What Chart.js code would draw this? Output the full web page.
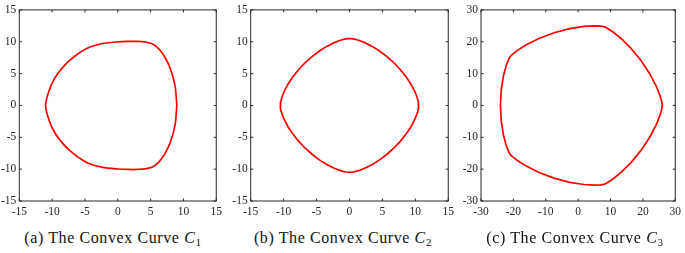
<!DOCTYPE html>
<html>
<head>
<meta charset="utf-8">
<script src="https://cdn.jsdelivr.net/npm/chart.js@4"></script>
<style>
  body { margin: 0; background: #fff; width: 685px; height: 253px; overflow: hidden; position: relative; }
  canvas { position: absolute; top: 0; }
  .cap { position: absolute; top: 229px; transform: translateX(-50%); white-space: nowrap;
         font-family: "Liberation Serif", serif; font-size: 16px; letter-spacing: 0.6px; color: #111; line-height: 18px; }
  .cap sub { font-size: 0.7em; line-height: 0; vertical-align: -0.3em; font-style: normal; }
</style>
</head>
<body>
<canvas id="c1" width="226" height="222" style="left:0px"></canvas>
<canvas id="c2" width="230" height="222" style="left:228px"></canvas>
<canvas id="c3" width="230" height="222" style="left:455px"></canvas>
<div class="cap" style="left:113px">(a) The Convex Curve <i>C</i><sub>1</sub></div>
<div class="cap" style="left:343px">(b) The Convex Curve <i>C</i><sub>2</sub></div>
<div class="cap" style="left:575px">(c) The Convex Curve <i>C</i><sub>3</sub></div>
<script>
// curve C1
var c1x = [9.00, 8.73, 8.04, 7.16, 6.37, 5.84, 5.50, 5.13, 4.38, 3.00, 1.50, 0.00, -2.30, -4.80, -7.30, -9.10, -10.00, -10.50, -10.85,
           -11.00, -10.85, -10.50, -10.00, -9.10, -7.30, -4.80, -2.30, 0.00, 1.50, 3.00, 4.38, 5.13, 5.50, 5.84, 6.37, 7.16, 8.04, 8.73];
var c1y = [0, 3.06, 5.69, 7.60, 8.74, 9.29, 9.53, 9.72, 9.92, 10.05, 10.05, 9.98, 9.72, 8.90, 7.10, 5.05, 3.50, 2.20, 1.00,
           0, -1.00, -2.20, -3.50, -5.05, -7.10, -8.90, -9.72, -9.98, -10.05, -10.05, -9.92, -9.72, -9.53, -9.29, -8.74, -7.60, -5.69, -3.06];

// curve C2
var c2x = [10.50, 10.49, 10.45, 10.35, 10.15, 9.82, 9.31, 8.62, 7.74, 6.72, 5.60, 4.46, 3.38, 2.40, 1.60, 0.98, 0.54, 0.23,
           0, -0.23, -0.54, -0.98, -1.60, -2.40, -3.38, -4.46, -5.60, -6.72, -7.74, -8.62, -9.31, -9.82, -10.15, -10.35, -10.45, -10.49,
           -10.50, -10.49, -10.45, -10.35, -10.15, -9.82, -9.31, -8.62, -7.74, -6.72, -5.60, -4.46, -3.38, -2.40, -1.60, -0.98, -0.54, -0.23,
           0, 0.23, 0.54, 0.98, 1.60, 2.40, 3.38, 4.46, 5.60, 6.72, 7.74, 8.62, 9.31, 9.82, 10.15, 10.35, 10.45, 10.49];
var c2y = [0, 0.23, 0.54, 0.98, 1.60, 2.40, 3.38, 4.46, 5.60, 6.72, 7.74, 8.62, 9.31, 9.82, 10.15, 10.35, 10.45, 10.49,
           10.50, 10.49, 10.45, 10.35, 10.15, 9.82, 9.31, 8.62, 7.74, 6.72, 5.60, 4.46, 3.38, 2.40, 1.60, 0.98, 0.54, 0.23,
           0, -0.23, -0.54, -0.98, -1.60, -2.40, -3.38, -4.46, -5.60, -6.72, -7.74, -8.62, -9.31, -9.82, -10.15, -10.35, -10.45, -10.49,
           -10.50, -10.49, -10.45, -10.35, -10.15, -9.82, -9.31, -8.62, -7.74, -6.72, -5.60, -4.46, -3.38, -2.40, -1.60, -0.98, -0.54, -0.23];

// curve C3
var c3x = [26.00, 25.99, 25.84, 25.32, 24.14, 22.15, 19.42, 16.26, 13.18, 10.65, 9.00, 8.24, 8.03, 7.82, 6.97, 5.00, 1.75, -2.57,
           -7.42, -12.10, -16.00, -18.74, -20.28, -20.89, -21.03, -21.15, -21.53, -22.23, -23.06, -23.74, -24.00,
           -23.74, -23.06, -22.23, -21.53, -21.15, -21.03, -20.89, -20.28, -18.74, -16.00, -12.10, -7.42, -2.57, 1.75, 5.00,
           6.97, 7.82, 8.03, 8.24, 9.00, 10.65, 13.18, 16.26, 19.42, 22.15, 24.14, 25.32, 25.84, 25.99];
var c3y = [0, 0.22, 1.07, 2.97, 6.01, 9.90, 14.11, 18.01, 21.10, 23.16, 24.25, 24.65, 24.73, 24.78, 24.91, 25.00, 24.82, 24.13,
           22.83, 21.03, 19.05, 17.29, 16.05, 15.45, 15.28, 15.10, 14.33, 12.48, 9.33, 5.01, 0,
           -5.01, -9.33, -12.48, -14.33, -15.10, -15.28, -15.45, -16.05, -17.29, -19.05, -21.03, -22.83, -24.13, -24.82, -25.00,
           -24.91, -24.78, -24.73, -24.65, -24.25, -23.16, -21.10, -18.01, -14.11, -9.90, -6.01, -2.97, -1.07, -0.22];

// axis limits / tick steps
var lim1 = [-15, 15], step1 = 5;
var lim2 = [-15, 15], step2 = 5;
var lim3 = [-30, 30], step3 = 10;

var axisColor = '#262626';

function loop(xs, ys) {
    var pts = xs.map(function (x, i) { return {x: x, y: ys[i]}; });
    pts.push(pts[0]);
    return pts;
}

// matlab style box with inward ticks
var boxTicks = {
    id: 'boxTicks',
    afterDraw: function (chart) {
        var ctx = chart.ctx, a = chart.chartArea, sx = chart.scales.x, sy = chart.scales.y;
        var len = 2.5;
        ctx.save();
        ctx.strokeStyle = axisColor;
        ctx.lineWidth = 1;
        ctx.strokeRect(a.left, a.top, a.right - a.left, a.bottom - a.top);
        ctx.beginPath();
        sx.ticks.forEach(function (t) {
            var p = sx.getPixelForValue(t.value);
            ctx.moveTo(p, a.bottom); ctx.lineTo(p, a.bottom - len);
            ctx.moveTo(p, a.top); ctx.lineTo(p, a.top + len);
        });
        sy.ticks.forEach(function (t) {
            var p = sy.getPixelForValue(t.value);
            ctx.moveTo(a.left, p); ctx.lineTo(a.left + len, p);
            ctx.moveTo(a.right, p); ctx.lineTo(a.right - len, p);
        });
        ctx.stroke();
        ctx.restore();
    }
};

function makeChart(id, xs, ys, lim, step, yWidth, padRight, tension) {
    var tickFont = {family: 'Liberation Serif', size: 11.5};
    return new Chart(document.getElementById(id), {
        type: 'scatter',
        data: {
            datasets: [{
                data: loop(xs, ys),
                showLine: true,
                borderColor: '#ff0000',
                borderWidth: 1.7,
                pointRadius: 0,
                tension: tension,
                fill: false
            }]
        },
        options: {
            responsive: false,
            animation: false,
            events: [],
            layout: {padding: {top: 4, right: padRight, left: 0, bottom: 0}},
            plugins: {legend: {display: false}, tooltip: {enabled: false}},
            scales: {
                x: {
                    min: lim[0], max: lim[1],
                    grid: {display: false, drawTicks: false},
                    border: {display: false},
                    ticks: {stepSize: step, font: tickFont, color: axisColor, padding: 4, maxRotation: 0, autoSkip: false},
                    afterFit: function (s) { s.height = 21; }
                },
                y: {
                    min: lim[0], max: lim[1],
                    grid: {display: false, drawTicks: false},
                    border: {display: false},
                    ticks: {stepSize: step, font: tickFont, color: axisColor, padding: 3, autoSkip: false},
                    afterFit: function (s) { s.width = yWidth; }
                }
            }
        },
        plugins: [boxTicks]
    });
}

function drawAll() {
    makeChart('c1', c1x, c1y, lim1, step1, 19.3, 8.7, 0.25);
    makeChart('c2', c2x, c2y, lim2, step2, 22.7, 9.3, 0);
    makeChart('c3', c3x, c3y, lim3, step3, 26, 6, 0);
}

if (document.fonts && document.fonts.load) {
    document.fonts.load('11.5px "Liberation Serif"').then(drawAll, drawAll);
} else {
    drawAll();
}
</script>
</body>
</html>
